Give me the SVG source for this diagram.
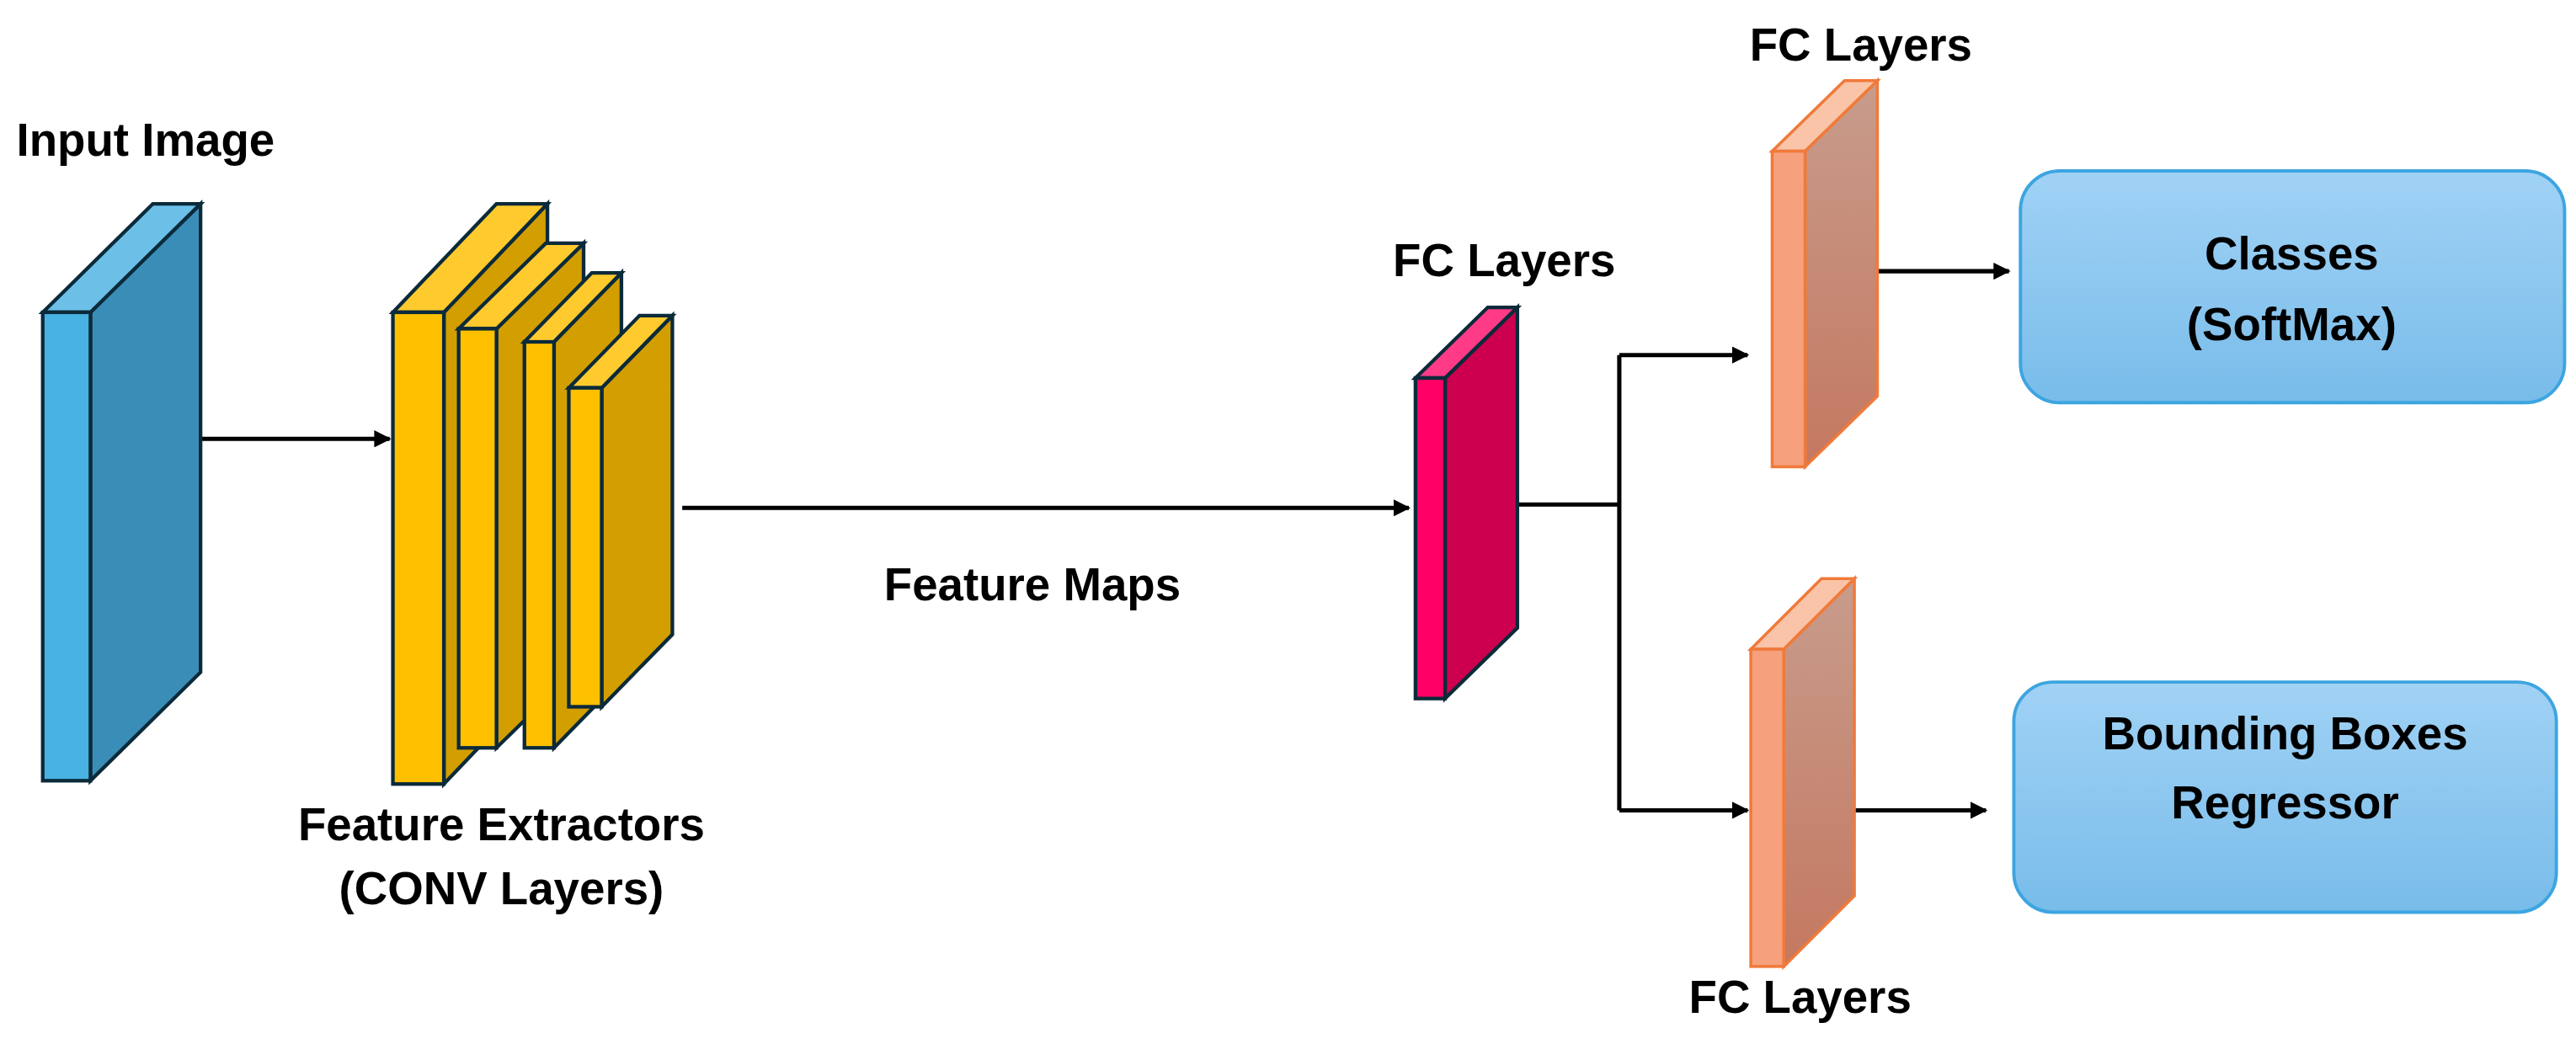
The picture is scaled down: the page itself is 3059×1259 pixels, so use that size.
<svg xmlns="http://www.w3.org/2000/svg" width="3059" height="1259" viewBox="0 0 3059 1259">
<defs>
<style>
.t{font-family:"Liberation Sans","DejaVu Sans",sans-serif;font-weight:bold;font-size:28px;fill:#000}
.m{text-anchor:middle}
.k{stroke:#0b2a3a;stroke-width:2.2;stroke-linejoin:miter}
.o{stroke:#F07A3A;stroke-width:1.8}
.c{stroke:#000;stroke-width:2.6;fill:none}
.box{stroke:#3DA5E0;stroke-width:2;fill:url(#bg)}
</style>
<linearGradient id="bg" x1="0" y1="0" x2="0" y2="1"><stop offset="0" stop-color="#A1D2F5"/><stop offset="1" stop-color="#78BCEA"/></linearGradient>
<linearGradient id="og" x1="0" y1="0" x2="0" y2="1"><stop offset="0" stop-color="#C89C8C"/><stop offset="1" stop-color="#C47860"/></linearGradient>
<marker id="ar" viewBox="0 0 10 10" refX="9" refY="5" markerWidth="4" markerHeight="4" orient="auto"><path d="M0,0L10,5L0,10z" fill="#000"/></marker>
</defs>
<rect width="3059" height="1259" fill="#fff"/>
<g transform="scale(1.9522)">
<g id="connectors">
<path class="c" d="M122,267H237" marker-end="url(#ar)"/>
<path class="c" d="M415,309H857" marker-end="url(#ar)"/>
<path class="c" d="M923,307H985M985,216V493"/>
<path class="c" d="M985,216H1063" marker-end="url(#ar)"/>
<path class="c" d="M985,493H1063" marker-end="url(#ar)"/>
<path class="c" d="M1142,165H1222" marker-end="url(#ar)"/>
<path class="c" d="M1128,493H1208" marker-end="url(#ar)"/>
</g>
<g id="input">
<path class="k" fill="#3A8DB6" d="M55,190L122,124V409L55,475Z"/>
<path class="k" fill="#6CC0E8" d="M26,190L93,124H122L55,190Z"/>
<rect class="k" fill="#48B2E2" x="26" y="190" width="29" height="285"/>
<text class="t" x="10" y="95">Input Image</text>
</g>
<g id="conv">
<path class="k" fill="#D29E00" d="M270,190L333,124V411L270,477Z"/>
<path class="k" fill="#FFCA2E" d="M239,190L302,124H333L270,190Z"/>
<rect class="k" fill="#FFC000" x="239" y="190" width="31" height="287"/>
<path class="k" fill="#D29E00" d="M302,200L355,148V403L302,455Z"/>
<path class="k" fill="#FFCA2E" d="M279,200L332,148H355L302,200Z"/>
<rect class="k" fill="#FFC000" x="279" y="200" width="23" height="255"/>
<path class="k" fill="#D29E00" d="M337,208L378,166V413L337,455Z"/>
<path class="k" fill="#FFCA2E" d="M319,208L360,166H378L337,208Z"/>
<rect class="k" fill="#FFC000" x="319" y="208" width="18" height="247"/>
<path class="k" fill="#D29E00" d="M366,236L409,192V386L366,430Z"/>
<path class="k" fill="#FFCA2E" d="M346,236L389,192H409L366,236Z"/>
<rect class="k" fill="#FFC000" x="346" y="236" width="20" height="194"/>
<text class="t m" x="305" y="511">Feature Extractors</text>
<text class="t m" x="305" y="550">(CONV Layers)</text>
</g>
<text class="t m" x="628" y="365">Feature Maps</text>
<g id="fc1">
<path class="k" fill="#CC004E" d="M879,230L923,187V382L879,425Z"/>
<path class="k" fill="#FF3A86" d="M861,230L905,187H923L879,230Z"/>
<rect class="k" fill="#FF0066" x="861" y="230" width="18" height="195"/>
<text class="t m" x="915" y="168">FC Layers</text>
</g>
<g id="fc2">
<path class="o" fill="url(#og)" d="M1098,92L1142,49V241L1098,284Z"/>
<path class="o" fill="#F9C4A8" d="M1078,92L1122,49H1142L1098,92Z"/>
<rect class="o" fill="#F6A07E" x="1078" y="92" width="20" height="192"/>
<text class="t m" x="1132" y="37">FC Layers</text>
</g>
<g id="fc3">
<path class="o" fill="url(#og)" d="M1085,395L1128,352V545L1085,588Z"/>
<path class="o" fill="#F9C4A8" d="M1065,395L1108,352H1128L1085,395Z"/>
<rect class="o" fill="#F6A07E" x="1065" y="395" width="20" height="193"/>
<text class="t m" x="1095" y="616">FC Layers</text>
</g>
<g id="classes">
<rect class="box" x="1229" y="104" width="331" height="141" rx="24"/>
<text class="t m" x="1394" y="164">Classes</text>
<text class="t m" x="1394" y="207">(SoftMax)</text>
</g>
<g id="bbox">
<rect class="box" x="1225" y="415" width="330" height="140" rx="24"/>
<text class="t m" x="1390" y="456">Bounding Boxes</text>
<text class="t m" x="1390" y="498">Regressor</text>
</g>
</g>
</svg>
